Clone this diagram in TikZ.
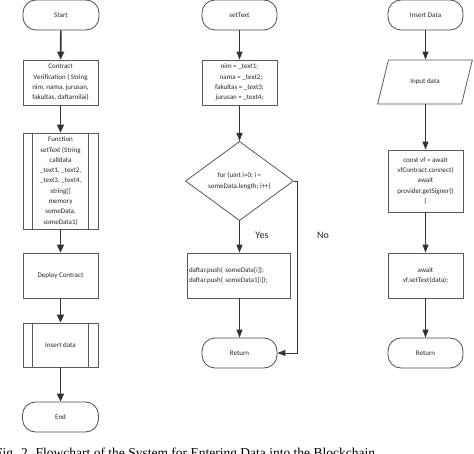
\documentclass[tikz,border=0pt]{standalone}
\usepackage{fontspec}
\setmainfont{Carlito}
\newfontfamily\capfont{Liberation Serif}
\usetikzlibrary{arrows.meta,shapes.geometric}
\definecolor{idx}{RGB}{70,90,170}
\begin{document}
\begin{tikzpicture}[x=1pt,y=-1pt,
  every node/.style={font=\fontsize{7}{10.3}\selectfont, text=black!85},
  box/.style={draw=black!65, line width=0.8pt, minimum width=75pt, minimum height=45pt, align=center, inner sep=1pt},
  term/.style={draw=black!70, line width=0.8pt, rounded corners=13pt, minimum width=76pt, minimum height=30pt, inner sep=1pt},
  arr/.style={draw=black!80, line width=0.9pt, -{Triangle[width=6pt,length=8pt]}},
  bigarr/.style={arr, line width=1.7pt, -{Triangle[width=7pt,length=8pt]}},
  lbl/.style={font=\fontsize{10}{12}\selectfont, text=black!85}
]
\useasboundingbox (0,0) rectangle (474,454);

% ---------- column 1 ----------
\node[term] (start) at (61,15) {Start};
\node[box] (cv) at (60.5,82.5) {Contract\\Verification ( String\\nim, nama, jurusan,\\fakultas, daftarnilai)};
\node[box, minimum height=96pt] (fn) at (60.5,181) {Function\\setText (String\\calldata\\\_text1, \_text2,\\\_text3, \_text4,\\string[]\\memory\\someData,\\someData1)};
\draw[draw=black!65, line width=0.8pt] ([xshift=10pt]fn.north west) -- ([xshift=10pt]fn.south west)
  ([xshift=-10pt]fn.north east) -- ([xshift=-10pt]fn.south east);
\node[box] (dep) at (60.5,275.5) {Deploy Contract};
\node[box, minimum height=44pt] (ins) at (60.5,345) {Insert data};
\draw[draw=black!65, line width=0.8pt] ([xshift=10pt]ins.north west) -- ([xshift=10pt]ins.south west)
  ([xshift=-10pt]ins.north east) -- ([xshift=-10pt]ins.south east);
\node[term] (end) at (60.5,417) {End};

\draw[bigarr] (start) -- (cv);
\draw[bigarr] (cv) -- (fn);
\draw[bigarr] (fn) -- (dep);
\draw[bigarr] (dep) -- (ins);
\draw[bigarr] (ins) -- (end);

% ---------- column 2 ----------
\node[term, minimum width=75pt] (st) at (239.5,15) {setText};
\node[box] (asg) at (239.5,82.5) {nim = \_text1;\\\ \ nama = \_text2;\\fakultas = \_text3;\\jurusan = \_text4;};
\node[diamond, draw=black!65, line width=0.8pt, minimum width=108pt, minimum height=62pt, inner sep=0pt, align=center] (dec) at (239.5,181) {for (uint i=0; i <\\someData.length; i++)};
\node[box, minimum width=103pt, align=left, text width=99pt] (push) at (238.5,275.5) {daftar.push( someData[\textcolor{idx}{i}]);\\daftar.push( someData1[\textcolor{idx}{i}]);};
\node[term, minimum width=75pt] (ret2) at (239.5,353) {Return};
\coordinate (dr) at (297,181);

\draw[arr] (st) -- (asg);
\draw[arr] (asg) -- (dec);
\draw[arr] (dec.south) -- (dec.south |- push.north);
\draw[arr] (push.south -| ret2) -- (ret2);
\draw[arr] (dec.east) -- (dr) |- (ret2.east);
\node[lbl] (yes) at (262,235) {Yes};
\node[lbl] (no) at (323,235) {No};

% ---------- column 3 ----------
\node[term, minimum width=75pt] (insd) at (425.5,15) {Insert Data};
\node[trapezium, trapezium left angle=60, trapezium right angle=120, trapezium stretches=true,
  draw=black!65, line width=0.8pt, minimum width=95pt, minimum height=44pt, inner sep=1pt] (inp) at (425,82) {Input data};
\node[box, minimum height=62pt] (cvf) at (425.5,181) {const vf = await\\vfContract.connect(\\await\\provider.getSigner()\\)};
\node[box] (aw) at (425.5,275.5) {await\\vf.setText(data);};
\node[term, minimum width=75pt] (ret3) at (425.5,353) {Return};

\draw[arr] (insd) -- (insd |- inp.north);
\draw[arr] (inp.south -| cvf) -- (cvf);
\draw[arr] (cvf) -- (aw);
\draw[arr] (aw) -- (ret3);

% ---------- caption ----------
\node[anchor=base west, inner sep=0pt, font=\capfont\fontsize{13.5}{14}\selectfont, text=black] (cap) at (-5,457)
  {Fig. 2. Flowchart of the System for Entering Data into the Blockchain};
\end{tikzpicture}
\end{document}
